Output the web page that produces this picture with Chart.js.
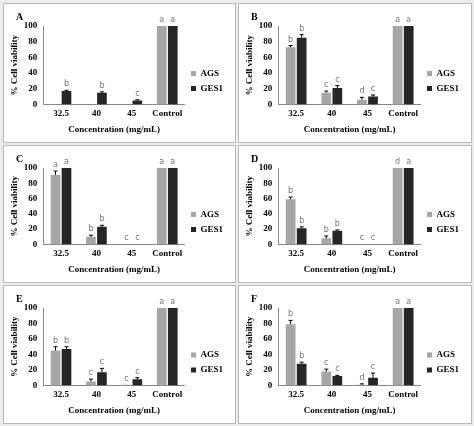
<!DOCTYPE html>
<html><head><meta charset="utf-8">
<script src="https://cdn.jsdelivr.net/npm/chart.js@4"></script>
<style>
body{margin:0;background:#ececec;width:474px;height:426px;position:relative;overflow:hidden}
.p{position:absolute;background:#fff;border:1px solid #b8b8b8}
canvas{display:block}
</style></head><body>
<div id="wrap"></div>
<script>
const categories = ['32.5', '40', '45', 'Control'];
const panelNames = ['A', 'B', 'C', 'D', 'E', 'F'];
const agsValues = [[0,0,0,100],[73,15,6,100],[91,10,0,100],[59,8,0,100],[45,5,1,100],[79,18,1,100]];
const gesValues = [[17,15,5,100],[85,21,10,100],[100,23,0,100],[21,18,0,100],[47,17,8,100],[28,12,10,100]];
const agsErr = [[0,0,0,0],[2,2,3,0],[5,2,0,0],[3,3,0,0],[5,3,0,0],[5,3,1,0]];
const gesErr = [[1,1,1,0],[4,3,2,0],[0,2,0,0],[2,1,0,0],[3,5,2,0],[2,1,6,0]];
const agsLetters = [['','','','a'],['b','c','d','a'],['a','b','c','a'],['b','b','c','d'],['b','c','c','a'],['b','c','d','a']];
const gesLetters = [['b','b','c','a'],['b','c','c','a'],['a','b','c','a'],['b','b','c','a'],['b','c','c','a'],['b','c','c','a']];

const serif = '"Liberation Serif", "DejaVu Serif", serif';

const marks = {
  id: 'marks',
  afterDatasetsDraw(chart, args, opts) {
    const ctx = chart.ctx;
    const y = chart.scales.y;
    ctx.save();
    [opts.err0, opts.err1].forEach((errs, di) => {
      const meta = chart.getDatasetMeta(di);
      const vals = chart.data.datasets[di].data;
      const letters = di === 0 ? opts.let0 : opts.let1;
      meta.data.forEach((bar, i) => {
        const top = y.getPixelForValue(vals[i] + errs[i]);
        if (errs[i] > 0) {
          ctx.strokeStyle = '#000'; ctx.lineWidth = 1;
          ctx.beginPath();
          ctx.moveTo(bar.x, bar.y); ctx.lineTo(bar.x, top);
          ctx.moveTo(bar.x - 2, top); ctx.lineTo(bar.x + 2, top);
          ctx.stroke();
        }
        if (letters[i]) {
          ctx.fillStyle = '#777';
          ctx.font = '8px "DejaVu Sans", sans-serif';
          ctx.textAlign = 'center'; ctx.textBaseline = 'bottom';
          ctx.fillText(letters[i], bar.x, top - 2);
        }
      });
    });
    ctx.fillStyle = '#000';
    ctx.font = 'bold 10px ' + serif;
    ctx.textAlign = 'left'; ctx.textBaseline = 'top';
    ctx.fillText(opts.name, 12, 8);
    ctx.restore();
  }
};

const wrap = document.getElementById('wrap');
const lefts = [3, 238], widths = [231, 232], tops = [3, 145, 285], heights = [138, 136, 137];
panelNames.forEach((name, k) => {
  const col = k % 2, row = Math.floor(k / 2);
  const div = document.createElement('div');
  div.className = 'p';
  div.style.left = lefts[col] + 'px'; div.style.top = tops[row] + 'px';
  const w = widths[col], h = heights[row];
  div.style.width = w + 'px'; div.style.height = h + 'px';
  const cv = document.createElement('canvas');
  cv.width = w; cv.height = h;
  cv.style.width = w + 'px'; cv.style.height = h + 'px';
  div.appendChild(cv); wrap.appendChild(div);
  new Chart(cv.getContext('2d'), {
    type: 'bar',
    data: {
      labels: categories,
      datasets: [
        { label: 'AGS', data: agsValues[k], backgroundColor: '#a6a6a6' },
        { label: 'GES1', data: gesValues[k], backgroundColor: '#262626' }
      ]
    },
    options: {
      responsive: false, animation: false,
      layout: { padding: { top: 22, left: 4, right: 2, bottom: 6 } },
      datasets: { bar: { categoryPercentage: 0.62, barPercentage: 0.88 } },
      scales: {
        x: {
          grid: { display: false, drawTicks: false },
          border: { color: '#888' },
          ticks: { color: '#000', padding: 4, maxRotation: 0, minRotation: 0, autoSkip: false, font: { family: serif, weight: 'bold', size: 9 } },
          title: { display: true, text: 'Concentration (mg/mL)', color: '#000', padding: 1, font: { family: serif, weight: 'bold', size: 9 } }
        },
        y: {
          min: 0, max: 100,
          grid: { display: false, tickLength: 3 },
          border: { color: '#888' },
          ticks: { stepSize: 20, autoSkip: false, color: '#000', font: { family: serif, weight: 'bold', size: 9 } },
          title: { display: true, text: '% Cell viability', color: '#000', padding: 1, font: { family: serif, weight: 'bold', size: 9 } }
        }
      },
      plugins: {
        legend: {
          position: 'right',
          labels: { boxWidth: 5, boxHeight: 5, padding: 6, color: '#000', font: { family: serif, weight: 'bold', size: 9 } }
        },
        tooltip: { enabled: false },
        marks: { name, err0: agsErr[k], err1: gesErr[k], let0: agsLetters[k], let1: gesLetters[k] }
      }
    },
    plugins: [marks]
  });
});
</script>
</body></html>
